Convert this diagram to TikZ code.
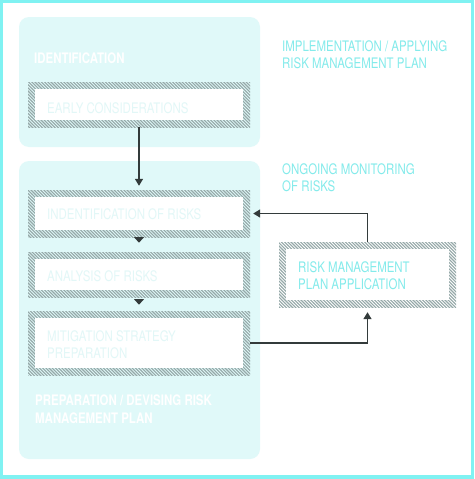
\documentclass[tikz,border=0pt]{standalone}
\usepackage{fontspec}
\setmainfont{TeX Gyre Heros}[FakeStretch=0.79]
\usetikzlibrary{patterns,arrows.meta,calc}
\definecolor{framec}{HTML}{80F2F2}
\definecolor{panelc}{HTML}{E0F9F9}
\definecolor{hatchc}{HTML}{95A8A8}
\definecolor{cyantext}{HTML}{84EBEB}
\definecolor{boxtextc}{HTML}{E2F7F7}
\definecolor{arrowc}{HTML}{333B3B}
\pgfdeclarepatternformonly{myhatch}{\pgfqpoint{-1pt}{-1pt}}{\pgfqpoint{4.2pt}{4.2pt}}{\pgfqpoint{3.2pt}{3.2pt}}{
  \pgfsetlinewidth{1.1pt}
  \pgfpathmoveto{\pgfqpoint{-0.1pt}{3.3pt}}
  \pgfpathlineto{\pgfqpoint{3.3pt}{-0.1pt}}
  \pgfusepath{stroke}}
\tikzset{
  panel/.style={fill=panelc, rounded corners=10pt},
  hatchbox/.style={pattern=myhatch, pattern color=hatchc, inner sep=0pt, minimum width=222pt},
  innerbox/.style={fill=white, inner sep=0pt, minimum width=208pt},
  txt/.style={anchor=north west, inner sep=0pt, align=left, font=\fontsize{14.5}{17.5}\selectfont},
  boxtext/.style={txt, text=boxtextc},
  headtext/.style={txt, text=white, font=\fontsize{14.5}{17.5}\selectfont\bfseries},
  sidetext/.style={txt, text=cyantext},
  conn/.style={draw=arrowc, line width=1.4pt, -{Triangle[width=8pt,length=7pt]}},
}
\begin{document}
\begin{tikzpicture}[x=1pt,y=-1pt]
\useasboundingbox (0,0) rectangle (474,479);
% frame
\fill[framec] (0,0) rectangle (474,479);
\fill[white] (3,3) rectangle (471,475);
% panels
\path[panel] (19,17) rectangle (260,147);
\path[panel] (19,161) rectangle (260,459);
% boxes
\node[hatchbox, minimum height=45pt] (b1) at (139,104.5) {};
\node[innerbox, minimum height=31pt] (b1i) at (b1.center) {};
\node[hatchbox, minimum height=47pt] (b2) at (139,213.5) {};
\node[innerbox, minimum height=33pt] (b2i) at (b2.center) {};
\node[hatchbox, minimum height=45pt] (b3) at (139,274.5) {};
\node[innerbox, minimum height=31pt] (b3i) at (b3.center) {};
\node[hatchbox, minimum height=64pt] (b4) at (139,343) {};
\node[innerbox, minimum height=50pt] (b4i) at (b4.center) {};
\node[hatchbox, minimum width=177pt, minimum height=65pt] (rm) at (367.5,274.5) {};
\node[innerbox, minimum width=163pt, minimum height=51pt] (rmi) at (rm.center) {};
% texts
\node[headtext] (h1) at (34,53) {IDENTIFICATION};
\node[headtext] (h2) at (35,395) {PREPARATION / DEVISING RISK\\MANAGEMENT PLAN};
\node[sidetext] (s1) at (282,40) {IMPLEMENTATION / APPLYING\\RISK MANAGEMENT PLAN};
\node[sidetext] (s2) at (282,163) {ONGOING MONITORING\\OF RISKS};
\node[sidetext] (rmt) at (298,261) {RISK MANAGEMENT\\PLAN APPLICATION};
\node[boxtext] (t1) at (47,102) {EARLY CONSIDERATIONS};
\node[boxtext] (t2) at (47,208) {INDENTIFICATION OF RISKS};
\node[boxtext] (t3) at (47,270) {ANALYSIS OF RISKS};
\node[boxtext] (t4) at (47,330) {MITIGATION STRATEGY\\PREPARATION};
% connectors
\draw[conn, shorten >=4pt] (b1.south) -- (b2.north);
\draw[conn, shorten >=3pt] (rm.north) |- (b2.east);
\draw[conn, shorten >=5pt] (b4.east) -| (rm.south);
\fill[arrowc] ($(b2.south)+(-5,0)$) -- ($(b2.south)+(5,0)$) -- ($(b2.south)+(0,5.5)$) -- cycle;
\fill[arrowc] ($(b3.south)+(-5,2)$) -- ($(b3.south)+(5,2)$) -- ($(b3.south)+(0,7.5)$) -- cycle;
\end{tikzpicture}
\end{document}
